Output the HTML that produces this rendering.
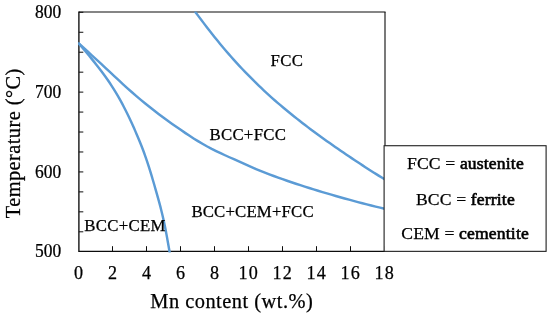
<!DOCTYPE html>
<html lang="en">
<head>
<meta charset="utf-8">
<title>Phase diagram</title>
<style>
html,body{margin:0;padding:0;background:#fff;}
body{width:550px;height:315px;overflow:hidden;}
svg{display:block;}
text{font-family:"Liberation Serif","Times New Roman",serif;fill:#000;stroke:#000;stroke-width:0.25px;}
.tk{font-size:18.1px;stroke-width:0.5px;}
.ax{font-size:20.4px;letter-spacing:0.5px;}
.rg{font-size:16.8px;letter-spacing:0.3px;stroke-width:0.5px;}
.lg{font-size:17.6px;letter-spacing:0.16px;stroke-width:0.3px;}
.b{stroke-width:0.6px;}
</style>
</head>
<body>
<svg width="550" height="315" viewBox="0 0 550 315">
<defs><clipPath id="pc"><rect x="78.3" y="11.5" width="306.4" height="241"/></clipPath></defs>
<rect x="0" y="0" width="550" height="315" fill="#ffffff"/>
<g stroke="#0c0c0c" fill="none">
<line x1="78.9" y1="11.45" x2="78.9" y2="252.04999999999998" stroke-width="1.35"/>
<line x1="78.9" y1="12.0" x2="385.55" y2="12.0" stroke-width="1.1"/>
<line x1="385.0" y1="12.0" x2="385.0" y2="146" stroke-width="1.1"/>
<line x1="78.9" y1="251.45" x2="385" y2="251.45" stroke-width="1.2"/>
<g stroke-width="1">
<line x1="112.50" y1="251.45" x2="112.50" y2="246.2"/>
<line x1="146.50" y1="251.45" x2="146.50" y2="246.2"/>
<line x1="180.50" y1="251.45" x2="180.50" y2="246.2"/>
<line x1="214.50" y1="251.45" x2="214.50" y2="246.2"/>
<line x1="248.50" y1="251.45" x2="248.50" y2="246.2"/>
<line x1="282.50" y1="251.45" x2="282.50" y2="246.2"/>
<line x1="316.50" y1="251.45" x2="316.50" y2="246.2"/>
<line x1="350.50" y1="251.45" x2="350.50" y2="246.2"/>
<line x1="384.50" y1="251.45" x2="384.50" y2="246.2"/>
<line x1="78.9" y1="231.80" x2="83.3" y2="231.80"/>
<line x1="78.9" y1="211.84" x2="83.3" y2="211.84"/>
<line x1="78.9" y1="191.89" x2="83.3" y2="191.89"/>
<line x1="78.9" y1="171.93" x2="83.3" y2="171.93"/>
<line x1="78.9" y1="151.98" x2="83.3" y2="151.98"/>
<line x1="78.9" y1="132.03" x2="83.3" y2="132.03"/>
<line x1="78.9" y1="112.07" x2="83.3" y2="112.07"/>
<line x1="78.9" y1="92.12" x2="83.3" y2="92.12"/>
<line x1="78.9" y1="72.16" x2="83.3" y2="72.16"/>
<line x1="78.9" y1="52.21" x2="83.3" y2="52.21"/>
<line x1="78.9" y1="32.25" x2="83.3" y2="32.25"/>
<line x1="78.9" y1="12.30" x2="83.3" y2="12.30"/>
</g>
</g>
<g fill="none" stroke="#5b9bd5" stroke-width="2.45" stroke-linecap="round" stroke-linejoin="round" clip-path="url(#pc)">
<path d="M78.81,43.50 L81.37,46.52 L83.93,49.54 L86.47,52.57 L88.99,55.59 L91.48,58.61 L93.93,61.63 L96.35,64.65 L98.72,67.67 L101.03,70.70 L103.28,73.72 L105.47,76.74 L107.60,79.76 L109.66,82.78 L111.65,85.80 L113.58,88.83 L115.44,91.85 L117.25,94.87 L118.99,97.89 L120.68,100.91 L122.31,103.93 L123.90,106.96 L125.44,109.98 L126.95,113.00 L128.42,116.02 L129.85,119.04 L131.25,122.07 L132.63,125.09 L133.99,128.11 L135.32,131.13 L136.63,134.15 L137.92,137.17 L139.18,140.20 L140.41,143.22 L141.61,146.24 L142.77,149.26 L143.90,152.28 L144.99,155.30 L146.05,158.33 L147.07,161.35 L148.06,164.37 L149.03,167.39 L149.98,170.41 L150.90,173.43 L151.82,176.46 L152.71,179.48 L153.60,182.50 L154.48,185.52 L155.35,188.54 L156.21,191.57 L157.07,194.59 L157.91,197.61 L158.75,200.63 L159.57,203.65 L160.37,206.67 L161.14,209.70 L161.88,212.72 L162.60,215.74 L163.29,218.76 L163.95,221.78 L164.59,224.80 L165.20,227.83 L165.80,230.85 L166.37,233.87 L166.94,236.89 L167.48,239.91 L168.02,242.93 L168.55,245.96 L169.08,248.98 L169.60,252.00"/>
<path d="M78.80,43.49 L83.23,47.50 L87.66,51.52 L92.09,55.56 L96.52,59.62 L100.95,63.70 L105.38,67.81 L109.81,71.94 L114.24,76.07 L118.67,80.20 L123.10,84.28 L127.53,88.31 L131.97,92.26 L136.40,96.12 L140.83,99.87 L145.26,103.51 L149.69,107.06 L154.12,110.53 L158.55,113.91 L162.98,117.22 L167.41,120.47 L171.84,123.65 L176.27,126.77 L180.70,129.85 L185.13,132.87 L189.56,135.81 L193.99,138.67 L198.42,141.41 L202.85,144.02 L207.28,146.50 L211.71,148.85 L216.14,151.06 L220.57,153.18 L225.00,155.24 L229.43,157.25 L233.87,159.24 L238.30,161.24 L242.73,163.23 L247.16,165.20 L251.59,167.13 L256.02,169.02 L260.45,170.85 L264.88,172.62 L269.31,174.35 L273.74,176.02 L278.17,177.64 L282.60,179.22 L287.03,180.77 L291.46,182.28 L295.89,183.76 L300.32,185.21 L304.75,186.64 L309.18,188.04 L313.61,189.42 L318.04,190.77 L322.47,192.09 L326.90,193.39 L331.33,194.68 L335.77,195.95 L340.20,197.21 L344.63,198.46 L349.06,199.69 L353.49,200.90 L357.92,202.08 L362.35,203.24 L366.78,204.37 L371.21,205.48 L375.64,206.57 L380.07,207.64 L384.50,208.71"/>
<path d="M195.50,12.24 L198.24,15.88 L200.98,19.51 L203.72,23.12 L206.46,26.70 L209.20,30.25 L211.93,33.75 L214.67,37.20 L217.41,40.60 L220.15,43.94 L222.89,47.22 L225.63,50.45 L228.37,53.62 L231.11,56.74 L233.85,59.81 L236.59,62.83 L239.33,65.80 L242.07,68.72 L244.80,71.60 L247.54,74.43 L250.28,77.22 L253.02,79.97 L255.76,82.68 L258.50,85.35 L261.24,87.97 L263.98,90.55 L266.72,93.09 L269.46,95.59 L272.20,98.05 L274.93,100.47 L277.67,102.85 L280.41,105.19 L283.15,107.50 L285.89,109.78 L288.63,112.03 L291.37,114.26 L294.11,116.47 L296.85,118.65 L299.59,120.82 L302.33,122.95 L305.07,125.07 L307.80,127.15 L310.54,129.21 L313.28,131.25 L316.02,133.26 L318.76,135.26 L321.50,137.23 L324.24,139.19 L326.98,141.14 L329.72,143.07 L332.46,144.99 L335.20,146.90 L337.93,148.80 L340.67,150.69 L343.41,152.56 L346.15,154.43 L348.89,156.28 L351.63,158.12 L354.37,159.95 L357.11,161.78 L359.85,163.59 L362.59,165.39 L365.33,167.18 L368.07,168.95 L370.80,170.69 L373.54,172.42 L376.28,174.14 L379.02,175.84 L381.76,177.53 L384.50,179.22"/>
</g>
<rect x="384.1" y="145.72" width="162" height="105.63" fill="#ffffff" stroke="#1e1e1e" stroke-width="1.1"/>
<g class="tk">
<text x="78.40" y="279.45" text-anchor="middle">0</text>
<text x="112.40" y="279.45" text-anchor="middle">2</text>
<text x="146.40" y="279.45" text-anchor="middle">4</text>
<text x="180.40" y="279.45" text-anchor="middle">6</text>
<text x="214.40" y="279.45" text-anchor="middle">8</text>
<text x="248.70" y="279.45" text-anchor="middle" style="letter-spacing:1.1px">10</text>
<text x="282.70" y="279.45" text-anchor="middle" style="letter-spacing:1.1px">12</text>
<text x="316.70" y="279.45" text-anchor="middle" style="letter-spacing:1.1px">14</text>
<text x="350.70" y="279.45" text-anchor="middle" style="letter-spacing:1.1px">16</text>
<text x="384.70" y="279.45" text-anchor="middle" style="letter-spacing:1.1px">18</text>
<text transform="translate(61.3,257.45) scale(0.965,1)" text-anchor="end">500</text>
<text transform="translate(61.3,177.63) scale(0.965,1)" text-anchor="end">600</text>
<text transform="translate(61.3,97.82) scale(0.965,1)" text-anchor="end">700</text>
<text transform="translate(61.3,18.00) scale(0.965,1)" text-anchor="end">800</text>
</g>
<text class="ax" x="231.8" y="308.2" text-anchor="middle">Mn content (wt.%)</text>
<text class="ax" transform="translate(20.3,143.3) rotate(-90)" text-anchor="middle" style="letter-spacing:0.43px">Temperature (°C)</text>
<g class="rg">
<text x="270.6" y="65.6">FCC</text>
<text x="209.4" y="140.0">BCC+FCC</text>
<text x="84.2" y="231.0">BCC+CEM</text>
<text x="191.4" y="216.5" style="letter-spacing:0.16px">BCC+CEM+FCC</text>
</g>
<g class="lg" text-anchor="middle">
<text x="465.4" y="169.3">FCC = <tspan class="b">austenite</tspan></text>
<text x="465.4" y="204.8">BCC = <tspan class="b">ferrite</tspan></text>
<text x="465.1" y="239.4">CEM = <tspan class="b">cementite</tspan></text>
</g>
</svg>
</body>
</html>
